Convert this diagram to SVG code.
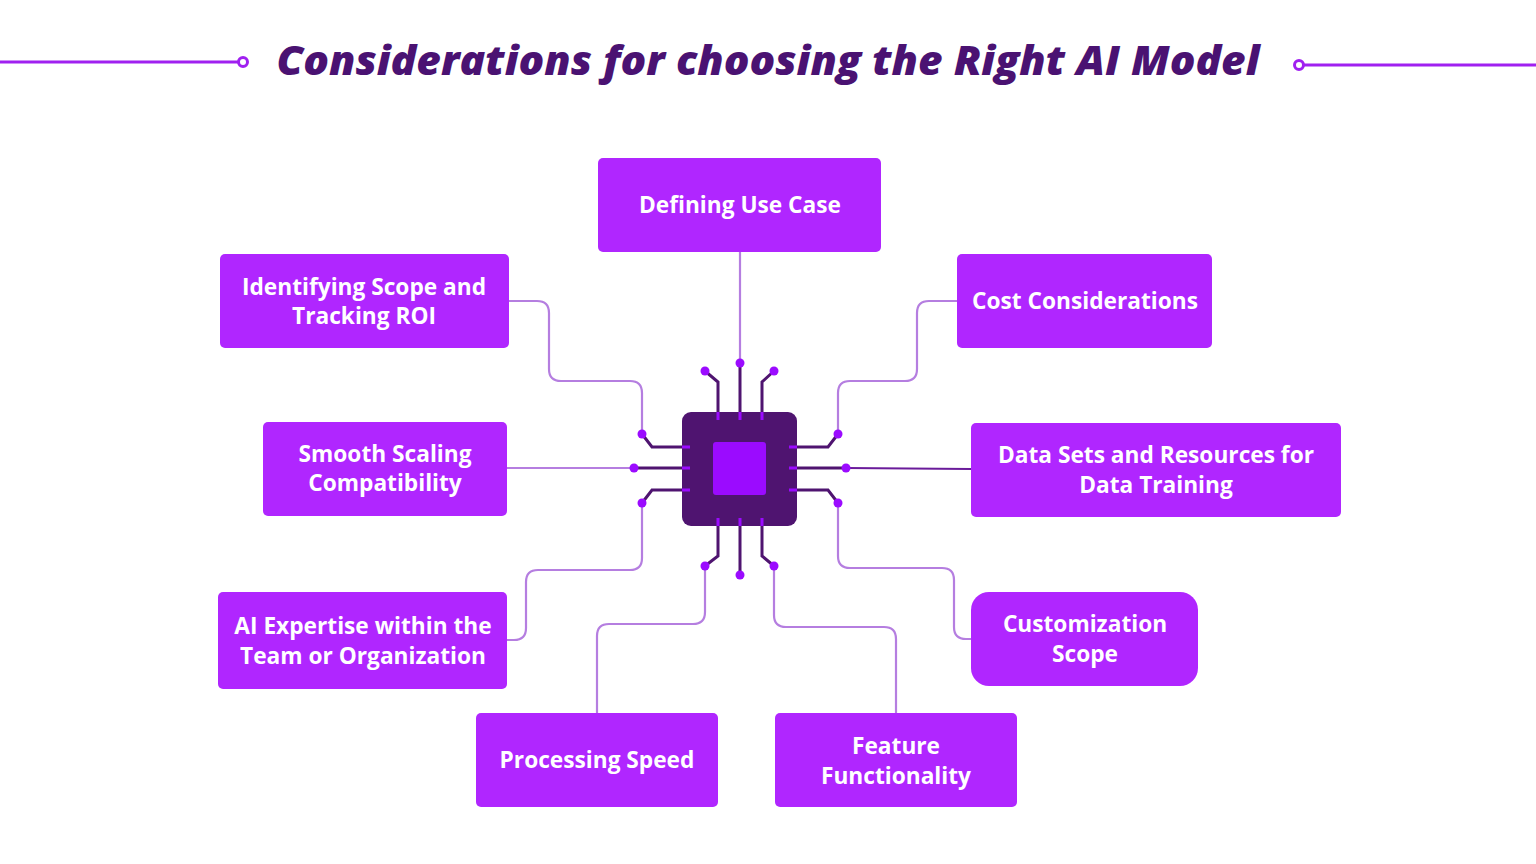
<svg xmlns="http://www.w3.org/2000/svg" width="1536" height="864" viewBox="0 0 1536 864">
<style>
.box{fill:#b026ff}
.t{fill:#fff;font-family:"Open Sans","DejaVu Sans",sans-serif;font-weight:700;font-size:22.7px;text-anchor:middle}
.c{fill:none;stroke:#b57ee0;stroke-width:2.2}
.lead{fill:none;stroke:#4f1470;stroke-width:3}
.dot{fill:#9b0bff}
.pin{stroke:#9b0bff;stroke-width:3}
</style>
<rect width="1536" height="864" fill="#fff"/>
<g id="title">
<line x1="0" y1="62" x2="238" y2="62" stroke="#a020f0" stroke-width="3"/>
<circle cx="243" cy="62" r="4.5" fill="#fff" stroke="#a020f0" stroke-width="3"/>
<line x1="1304" y1="65" x2="1536" y2="65" stroke="#a020f0" stroke-width="3"/>
<circle cx="1299" cy="65" r="4.5" fill="#fff" stroke="#a020f0" stroke-width="3"/>
<text x="768" y="75" font-family="'Open Sans','DejaVu Sans',sans-serif" font-weight="800" font-style="italic" font-size="40" fill="#4a1272" text-anchor="middle" textLength="983" lengthAdjust="spacingAndGlyphs">Considerations for choosing the Right AI Model</text>
</g>
<g id="connectors">
<path class="c" d="M740 252V363"/>
<path class="c" d="M509 301H537Q549 301 549 313V369Q549 381 561 381H630Q642 381 642 393V434"/>
<path class="c" d="M957 301H929Q917 301 917 313V369Q917 381 905 381H850Q838 381 838 393V434"/>
<path class="c" d="M507 468H634"/>
<path d="M846 468L971 469" fill="none" stroke="#6a1b9a" stroke-width="2.2"/>
<path class="c" d="M507 640H514Q526 640 526 628V582Q526 570 538 570H630Q642 570 642 558V503"/>
<path class="c" d="M838 503V556Q838 568 850 568H942Q954 568 954 580V627Q954 639 966 639H971"/>
<path class="c" d="M705 566V612Q705 624 693 624H609Q597 624 597 636V713"/>
<path class="c" d="M774 566V615Q774 627 786 627H884Q896 627 896 639V713"/>
</g>
<g id="chip">
<path class="lead" d="M718 412V382L705 371M740 412V363M762 412V382L774 371M682 447H652L642 434M682 468H634M682 490H652L642 503M797 447H828L838 434M797 468H846M797 490H828L838 503M718 526V556L705 566M740 526V575M762 526V556L774 566"/>
<rect x="682" y="412" width="115" height="114" rx="9" fill="#4f1470"/>
<rect x="713" y="442" width="53" height="53" rx="3" fill="#9b0bff"/>
<path class="pin" d="M718 412v8M740 412v8M762 412v8M718 526v-8M740 526v-8M762 526v-8M682 447h8M682 468h8M682 490h8M797 447h-8M797 468h-8M797 490h-8"/>
<g class="dot"><circle cx="705" cy="371" r="4.5"/><circle cx="740" cy="363" r="4.5"/><circle cx="774" cy="371" r="4.5"/><circle cx="642" cy="434" r="4.5"/><circle cx="634" cy="468" r="4.5"/><circle cx="642" cy="503" r="4.5"/><circle cx="838" cy="434" r="4.5"/><circle cx="846" cy="468" r="4.5"/><circle cx="838" cy="503" r="4.5"/><circle cx="705" cy="566" r="4.5"/><circle cx="740" cy="575" r="4.5"/><circle cx="774" cy="566" r="4.5"/></g>
</g>
<g id="n1"><rect class="box" x="598" y="158" width="283" height="94" rx="5"/><text class="t" x="740" y="213">Defining Use Case</text></g>
<g id="n2"><rect class="box" x="220" y="254" width="289" height="94" rx="5"/><text class="t" x="364" y="295">Identifying Scope and</text><text class="t" x="364" y="324">Tracking ROI</text></g>
<g id="n3"><rect class="box" x="957" y="254" width="255" height="94" rx="5"/><text class="t" x="1085" y="309">Cost Considerations</text></g>
<g id="n4"><rect class="box" x="263" y="422" width="244" height="94" rx="5"/><text class="t" x="385" y="462">Smooth Scaling</text><text class="t" x="385" y="491">Compatibility</text></g>
<g id="n5"><rect class="box" x="971" y="423" width="370" height="94" rx="5"/><text class="t" x="1156" y="463">Data Sets and Resources for</text><text class="t" x="1156" y="493">Data Training</text></g>
<g id="n6"><rect class="box" x="218" y="592" width="289" height="97" rx="5"/><text class="t" x="363" y="634">AI Expertise within the</text><text class="t" x="363" y="664">Team or Organization</text></g>
<g id="n7"><rect class="box" x="971" y="592" width="227" height="94" rx="18"/><text class="t" x="1085" y="632">Customization</text><text class="t" x="1085" y="662">Scope</text></g>
<g id="n8"><rect class="box" x="476" y="713" width="242" height="94" rx="5"/><text class="t" x="597" y="768">Processing Speed</text></g>
<g id="n9"><rect class="box" x="775" y="713" width="242" height="94" rx="5"/><text class="t" x="896" y="754">Feature</text><text class="t" x="896" y="784">Functionality</text></g>
</svg>
